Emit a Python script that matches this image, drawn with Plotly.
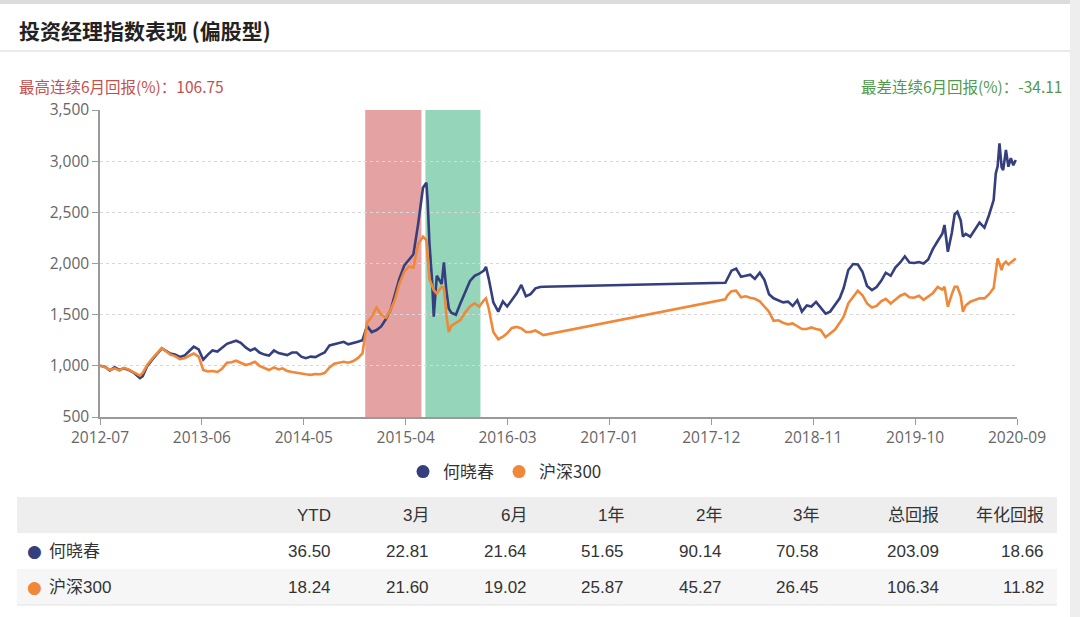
import plotly.graph_objects as go
import pandas as pd

# ---------------- data ----------------
dates = [
    "2012-07-16","2012-08-01","2012-08-16","2012-09-01","2012-09-16","2012-10-01","2012-10-16","2012-11-01","2012-11-16","2012-11-22","2012-12-01","2012-12-16",
    "2013-01-01","2013-01-16","2013-02-01","2013-02-16","2013-03-01","2013-03-16","2013-04-01","2013-04-16","2013-05-01","2013-05-16","2013-06-01","2013-06-16",
    "2013-07-01","2013-07-16","2013-08-01","2013-08-16","2013-09-01","2013-09-16","2013-10-01","2013-10-16","2013-11-01","2013-11-16","2013-12-01","2013-12-16",
    "2014-01-01","2014-01-16","2014-02-01","2014-02-16","2014-03-01","2014-03-16","2014-04-01","2014-04-16","2014-05-01","2014-05-16","2014-06-01","2014-06-16",
    "2014-07-01","2014-07-16","2014-08-01","2014-08-16","2014-09-01","2014-09-16","2014-10-01","2014-10-16","2014-11-01","2014-11-16","2014-12-01","2014-12-16",
    "2015-01-01","2015-01-16","2015-02-01","2015-02-16","2015-03-01","2015-03-16","2015-04-01","2015-04-16","2015-05-01","2015-05-16","2015-06-01","2015-06-12",
    "2015-06-16","2015-06-22","2015-07-01","2015-07-06","2015-07-16","2015-08-01","2015-08-08","2015-08-16","2015-08-24","2015-09-01","2015-09-16","2015-10-01",
    "2015-10-16","2015-11-01","2015-11-16","2015-12-01","2015-12-16","2015-12-23",
    "2016-01-01","2016-01-16","2016-02-01","2016-02-16","2016-03-01","2016-03-16","2016-04-01","2016-04-16","2016-05-01","2016-05-16","2016-06-01","2016-06-16","2016-06-27",
    "2018-02-09","2018-02-16","2018-03-01","2018-03-16","2018-04-01","2018-04-16","2018-05-01","2018-05-16","2018-06-01","2018-06-16","2018-07-01","2018-07-16",
    "2018-08-01","2018-08-16","2018-09-01","2018-09-16","2018-10-01","2018-10-16","2018-11-01","2018-11-16","2018-12-01","2018-12-16",
    "2019-01-01","2019-01-16","2019-02-01","2019-02-16","2019-03-01","2019-03-16","2019-04-01","2019-04-16","2019-05-01","2019-05-16","2019-06-01","2019-06-16",
    "2019-07-01","2019-07-16","2019-08-01","2019-08-16","2019-09-01","2019-09-16","2019-10-01","2019-10-16","2019-11-01","2019-11-16","2019-12-01","2019-12-16",
    "2020-01-01","2020-01-16","2020-01-23","2020-02-03","2020-02-16","2020-02-25","2020-03-05","2020-03-16","2020-03-23","2020-04-01","2020-04-16","2020-05-01",
    "2020-05-16","2020-06-01","2020-06-16","2020-07-01","2020-07-08","2020-07-14","2020-07-20","2020-07-27","2020-08-01","2020-08-10","2020-08-18","2020-08-26",
    "2020-09-03","2020-09-11",
]

he_xiaochun = [
    1000,990,955,985,960,975,960,935,895,881,900,1000,
    1060,1110,1170,1145,1120,1110,1086,1100,1140,1187,1160,1060,
    1110,1150,1140,1180,1215,1230,1245,1225,1180,1150,1170,1130,
    1110,1100,1150,1125,1115,1105,1130,1130,1090,1075,1090,1085,
    1110,1130,1200,1210,1225,1235,1210,1220,1235,1250,1390,1330,
    1350,1385,1460,1550,1680,1850,1980,2040,2090,2380,2740,2790,
    2620,2200,1810,1480,1880,1800,2010,1740,1560,1520,1500,1611,
    1720,1830,1880,1900,1930,1968,
    1850,1620,1530,1630,1580,1640,1708,1790,1680,1700,1757,1770,1773,
    1812,1850,1930,1950,1870,1880,1890,1850,1910,1840,1700,1660,
    1640,1620,1627,1585,1640,1530,1590,1580,1625,1565,
    1510,1530,1600,1660,1760,1936,1995,1990,1920,1780,1740,1770,
    1830,1910,1880,1960,2010,2070,2010,2005,2015,2000,2040,2140,
    2220,2290,2376,2115,2300,2480,2506,2420,2262,2290,2262,2330,
    2400,2350,2474,2620,2881,2950,3174,2940,2913,3109,2946,3030,
    2960,3011,
]

hs300 = [
    1000,985,960,975,955,980,965,940,915,905,930,1010,
    1070,1120,1174,1140,1110,1095,1065,1075,1095,1120,1090,960,
    945,950,940,970,1030,1035,1050,1030,1008,1020,1040,1000,
    975,959,985,965,976,950,940,930,925,918,912,920,
    918,930,985,1020,1030,1040,1030,1045,1075,1122,1420,1480,
    1570,1500,1470,1550,1640,1800,1920,1970,1960,2190,2262,2230,
    2066,1850,1780,1740,1708,1773,1760,1500,1330,1390,1420,1448,
    1520,1580,1611,1578,1640,1659,
    1560,1330,1260,1285,1318,1370,1380,1366,1330,1330,1345,1318,1301,
    1650,1690,1730,1735,1670,1680,1665,1655,1630,1580,1529,1440,
    1445,1420,1405,1415,1385,1360,1360,1375,1360,1350,
    1280,1315,1355,1420,1480,1611,1675,1735,1690,1610,1570,1585,
    1630,1655,1610,1650,1685,1705,1670,1665,1685,1645,1675,1710,
    1770,1745,1773,1578,1700,1773,1773,1680,1529,1590,1627,1640,
    1660,1659,1700,1760,1900,2050,2000,1936,1990,2017,1990,2010,
    2030,2050,
]

series_names = ["何晓春", "沪深300"]
x_tick_labels = ["2012-07", "2013-06", "2014-05", "2015-04", "2016-03",
                 "2017-01", "2017-12", "2018-11", "2019-10", "2020-09"]
x_start, x_end = "2012-07-15", "2020-09-15"
best_period = ["2014-11-25", "2015-05-27"]
worst_period = ["2015-06-09", "2015-12-05"]
best_text = "最高连续6月回报(%)：106.75"
worst_text = "最差连续6月回报(%)：-34.11"

table_columns = ["YTD", "3月", "6月", "1年", "2年", "3年", "总回报", "年化回报"]
table_he = ["36.50", "22.81", "21.64", "51.65", "90.14", "70.58", "203.09", "18.66"]
table_hs = ["18.24", "21.60", "19.02", "25.87", "45.27", "26.45", "106.34", "11.82"]

# ---------------- style ----------------
BLUE = "#353f7d"
ORANGE = "#f0883a"
CJK = "Noto Sans CJK SC"
NUM = "Open Sans, Noto Sans CJK SC"
TAB = "Liberation Sans, Noto Sans CJK SC"

W, H = 1080, 617
PL, PR, PT, PB = 100, 1017, 110, 417


def px2x(px):
    return (px - PL) / (PR - PL)


def py2y(py):
    return (PB - py) / (PB - PT)


fig = go.Figure()
fig.add_trace(go.Scatter(x=pd.to_datetime(dates), y=he_xiaochun, mode="lines",
                         line=dict(color=BLUE, width=2.6), showlegend=False,
                         name=series_names[0]))
fig.add_trace(go.Scatter(x=pd.to_datetime(dates), y=hs300, mode="lines",
                         line=dict(color=ORANGE, width=2.6), showlegend=False,
                         name=series_names[1]))
# legend entries (round markers)
for nm, col in zip(series_names, [BLUE, ORANGE]):
    fig.add_trace(go.Scatter(x=[None], y=[None], mode="markers", name=nm,
                             marker=dict(color=col, size=13, symbol="circle")))

# tick positions: evenly spaced between start and end
t0, t1 = pd.Timestamp(x_start), pd.Timestamp(x_end)
n = len(x_tick_labels) - 1
tickvals = [t0 + (t1 - t0) * k / n for k in range(n + 1)]

shapes = [
    dict(type="rect", xref="x", yref="paper", x0=best_period[0], x1=best_period[1],
         y0=0, y1=1, fillcolor="#e5a2a3", line=dict(width=0), layer="between"),
    dict(type="rect", xref="x", yref="paper", x0=worst_period[0], x1=worst_period[1],
         y0=0, y1=1, fillcolor="#95d6bb", line=dict(width=0), layer="between"),
    # top gray band
    dict(type="rect", xref="paper", yref="paper", x0=px2x(0), x1=px2x(W),
         y0=py2y(0), y1=py2y(4), fillcolor="#dcdcdc", line=dict(width=0)),
    # line under title
    dict(type="line", xref="paper", yref="paper", x0=px2x(0), x1=px2x(1070),
         y0=py2y(51), y1=py2y(51), line=dict(color="#d6d6d6", width=1.2)),
    # right border
    dict(type="rect", xref="paper", yref="paper", x0=px2x(1070), x1=px2x(W),
         y0=py2y(0), y1=py2y(H), fillcolor="#eeeeee", line=dict(width=0)),
    # table header background
    dict(type="rect", xref="paper", yref="paper", x0=px2x(17), x1=px2x(1057),
         y0=py2y(497), y1=py2y(533), fillcolor="#eeeeee", line=dict(width=0)),
    # second row background
    dict(type="rect", xref="paper", yref="paper", x0=px2x(17), x1=px2x(1057),
         y0=py2y(569), y1=py2y(605), fillcolor="#f6f6f6", line=dict(width=0)),
    dict(type="line", xref="paper", yref="paper", x0=px2x(17), x1=px2x(1057),
         y0=py2y(605), y1=py2y(605), line=dict(color="#e2e2e2", width=1)),
]

annotations = [
    dict(text="<b>投资经理指数表现 (偏股型)</b>", xref="paper", yref="paper",
         x=px2x(17), y=py2y(30), xanchor="left", yanchor="middle", showarrow=False,
         font=dict(family=CJK, size=21, color="#222222")),
    dict(text=best_text, xref="paper", yref="paper", x=px2x(17), y=py2y(86),
         xanchor="left", yanchor="middle", showarrow=False,
         font=dict(family=CJK, size=15.5, color="#c4504e")),
    dict(text=worst_text, xref="paper", yref="paper", x=px2x(1064), y=py2y(86),
         xanchor="right", yanchor="middle", showarrow=False,
         font=dict(family=CJK, size=15.5, color="#4f9a4d")),
]

col_right = [333, 431, 529, 626, 724, 821, 941, 1046]
row_y = [515, 551, 587]
for cx, hdr, v1, v2 in zip(col_right, table_columns, table_he, table_hs):
    for ry, txt in zip(row_y, [hdr, v1, v2]):
        annotations.append(dict(text=txt, xref="paper", yref="paper", x=px2x(cx), y=py2y(ry),
                                xanchor="right", yanchor="middle", showarrow=False,
                                font=dict(family=TAB, size=17, color="#333333")))
for ry, nm, col in zip(row_y[1:], series_names, [BLUE, ORANGE]):
    annotations.append(dict(text="●", xref="paper", yref="paper", x=px2x(34), y=py2y(ry),
                            xanchor="center", yanchor="middle", showarrow=False,
                            font=dict(family="DejaVu Sans", size=17, color=col)))
    annotations.append(dict(text=nm, xref="paper", yref="paper", x=px2x(47), y=py2y(ry),
                            xanchor="left", yanchor="middle", showarrow=False,
                            font=dict(family=TAB, size=17, color="#333333")))

fig.update_layout(
    width=W, height=H,
    margin=dict(l=PL, r=W - PR, t=PT, b=H - PB),
    paper_bgcolor="white", plot_bgcolor="white",
    shapes=shapes, annotations=annotations,
    legend=dict(orientation="h", x=px2x(505), y=py2y(472), xanchor="center", yanchor="middle",
                font=dict(family=CJK, size=17, color="#333333"), itemwidth=30,
                bgcolor="rgba(0,0,0,0)"),
    xaxis=dict(type="date", range=[t0, t1], tickvals=tickvals, ticktext=x_tick_labels,
               showgrid=False, showline=True, linecolor="#9a9a9a", linewidth=1.5,
               ticks="outside", ticklen=6, tickcolor="#9a9a9a",
               tickfont=dict(family=NUM, size=15.5, color="#666666")),
    yaxis=dict(range=[500, 3500], dtick=500, tickformat=",", showgrid=True,
               gridcolor="#d8d8d8", griddash="dot", gridwidth=1,
               showline=True, linecolor="#9a9a9a", linewidth=1.5, zeroline=False,
               ticks="outside", ticklen=6, tickcolor="#9a9a9a",
               tickfont=dict(family=NUM, size=15.5, color="#666666")),
)

fig.write_html("out.html")
